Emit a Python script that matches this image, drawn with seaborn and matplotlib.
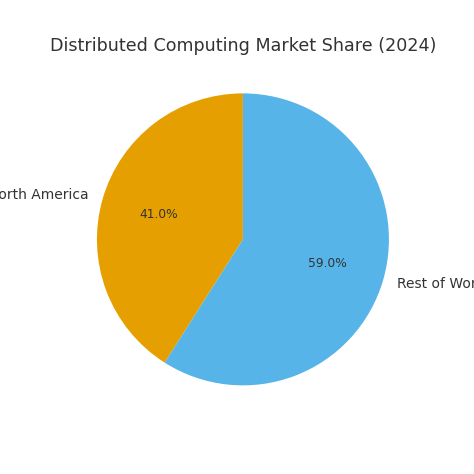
import matplotlib
matplotlib.use('Agg')
import matplotlib.pyplot as plt
import seaborn as sns

# Market share data
regions = ['North America', 'Rest of World']
shares = [41.0, 59.0]
colors = ['#E69F00', '#56B4E9']

sns.set_theme(style='white')
plt.rcParams['font.family'] = ['DejaVu Sans']
plt.rcParams['text.color'] = '#333333'

fig, ax = plt.subplots(figsize=(4.74, 4.74), dpi=100)
ax.pie(shares, labels=regions, colors=colors, autopct='%1.1f%%', startangle=90,
       wedgeprops={'linewidth': 0, 'edgecolor': 'none'},
       textprops={'fontsize': 10, 'color': '#333333'})
for t in ax.texts:
    if t.get_text().endswith('%'):
        t.set_fontsize(8.8)
ax.set_title('Distributed Computing Market Share (2024)', fontsize=12.6,
             color='#333333', pad=4)
ax.set_aspect('equal')

plt.savefig('out.png', dpi=100)
